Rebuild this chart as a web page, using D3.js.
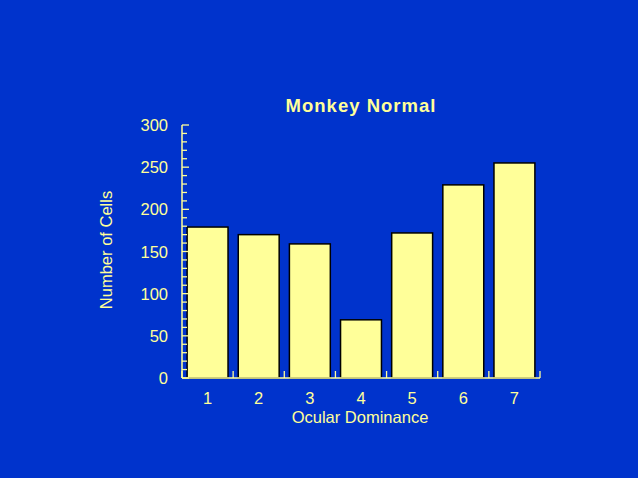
<!DOCTYPE html>
<html><head><meta charset="utf-8">
<script src="https://cdn.jsdelivr.net/npm/d3@7"></script>
<style>html,body{margin:0;padding:0;background:#0033cc;}</style>
</head><body>
<script>
const categories = ["1","2","3","4","5","6","7"];
const values = [179, 170, 159, 69, 172, 229, 255];
const yTicks = [0, 50, 100, 150, 200, 250, 300];
const title = "Monkey Normal";
const xTitle = "Ocular Dominance";
const yTitle = "Number of Cells";

(function(){
const W = 638, H = 478;
const fg = "#ffff99";
const svg = d3.select("body").append("svg").attr("width", W).attr("height", H)
  .style("display","block").style("background","#0033cc");

const mLeft = 182, mRight = 540, mTop = 125, mBottom = 378;
const x = d3.scaleBand().domain(categories).range([mLeft, mRight]).paddingInner(0.2).paddingOuter(0.1);
const y = d3.scaleLinear().domain([0, 300]).range([mBottom, mTop]);
const font = "Arial, 'Liberation Sans', sans-serif";
const fs = 16.5;

svg.selectAll("rect.bar").data(values).join("rect")
  .attr("class","bar")
  .attr("x", (d,i) => x(categories[i]))
  .attr("width", x.bandwidth())
  .attr("y", d => y(d))
  .attr("height", d => y(0) - y(d))
  .attr("fill", fg).attr("stroke", "#000").attr("stroke-width", 1.5);

svg.append("line").attr("x1", mLeft).attr("x2", mLeft).attr("y1", mTop).attr("y2", mBottom)
  .attr("stroke", fg).attr("stroke-width", 1.5);
d3.range(0, 301, 10).forEach(v => {
  const major = v % 50 === 0;
  svg.append("line").attr("x1", mLeft).attr("x2", mLeft + (major ? 7 : 5))
    .attr("y1", y(v)).attr("y2", y(v)).attr("stroke", fg).attr("stroke-width", 1.3);
});
svg.selectAll("text.ytick").data(yTicks).join("text")
  .attr("class","ytick")
  .attr("x", 168).attr("y", d => y(d) + 6)
  .attr("text-anchor","end").attr("fill", fg)
  .attr("font-family", font).attr("font-size", fs)
  .text(d => d);

svg.append("line").attr("x1", mLeft).attr("x2", mRight).attr("y1", mBottom).attr("y2", mBottom)
  .attr("stroke", fg).attr("stroke-width", 1.5);
d3.range(0, categories.length + 1).forEach(i => {
  const xx = mLeft + i * (mRight - mLeft) / categories.length;
  svg.append("line").attr("x1", xx).attr("x2", xx).attr("y1", mBottom).attr("y2", mBottom - 7)
    .attr("stroke", fg).attr("stroke-width", 1.3);
});
svg.selectAll("text.xtick").data(categories).join("text")
  .attr("class","xtick")
  .attr("x", d => x(d) + x.bandwidth()/2).attr("y", 403.5)
  .attr("text-anchor","middle").attr("fill", fg)
  .attr("font-family", font).attr("font-size", fs)
  .text(d => d);

svg.append("text").attr("x", 360).attr("y", 422.5).attr("text-anchor","middle")
  .attr("fill", fg).attr("font-family", font).attr("font-size", fs).text(xTitle);

svg.append("text").attr("transform", "translate(112,250) rotate(-90)").attr("text-anchor","middle")
  .attr("fill", fg).attr("font-family", font).attr("font-size", fs).text(yTitle);

svg.append("text").attr("x", 361).attr("y", 112).attr("text-anchor","middle")
  .attr("fill", fg).attr("font-family", font).attr("font-size", 18.5).attr("font-weight","bold")
  .attr("letter-spacing", 1).text(title);
})();
</script>
</body></html>
